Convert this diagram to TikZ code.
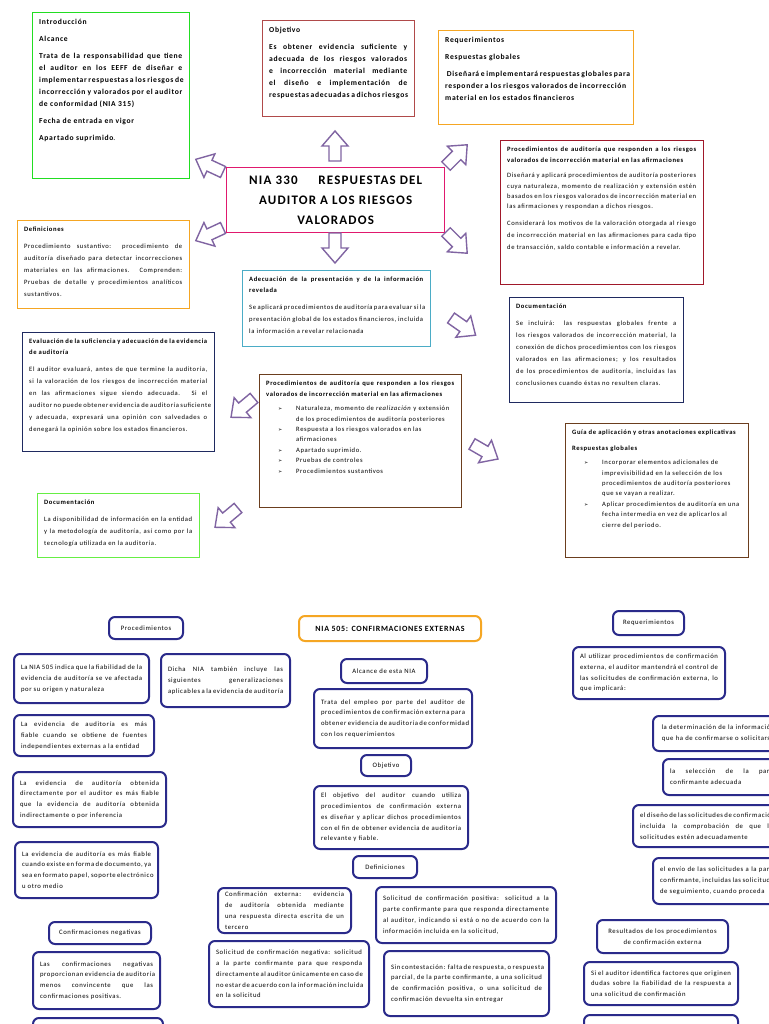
\documentclass[tikz,border=0pt]{standalone}
\usepackage{fontspec}
\setmainfont[LetterSpace=9]{Carlito}
\newfontfamily\dejavu{DejaVu Sans}
\usetikzlibrary{backgrounds}
\hyphenpenalty=10000 \exhyphenpenalty=10000 \emergencystretch=20pt
\definecolor{cgreen}{HTML}{22DD22}
\definecolor{cobj}{HTML}{B04A4A}
\definecolor{corange}{HTML}{F5A623}
\definecolor{cmag}{HTML}{E0196E}
\definecolor{cdred}{HTML}{A0182A}
\definecolor{ccyan}{HTML}{4BACC6}
\definecolor{cnavy}{HTML}{1F2A60}
\definecolor{cbrown}{HTML}{6B3E1E}
\definecolor{clgreen}{HTML}{66EE44}
\definecolor{cpurple}{HTML}{8064A2}
\definecolor{cbnavy}{HTML}{2A2A8A}
\definecolor{clink}{HTML}{C8CC20}
\newcommand\bx[7]{%
  \node[#6,anchor=north west,minimum width=#4pt,minimum height=#5pt] (#1) at (#2,#3) {};
  \pgfmathsetmacro\tw{#4-14}%
  \node[anchor=north west,text width=\tw pt,align=justify,inner sep=0pt] (#1t) at ([xshift=7pt,yshift=-7pt]#1.north west) {#7};}
\newcommand\rb[7]{%
  \pgfmathsetmacro\tw{#4-14}%
  \node[#6,anchor=north west,minimum width=#4pt,minimum height=#5pt,text width=\tw pt,inner xsep=7pt,inner ysep=3pt] (#1) at (#2,#3) {#7};}
\newenvironment{blist}{\begin{list}{\dejavu\fontsize{5}{5}\selectfont ➢}{\leftmargin=30pt\labelsep=14pt\itemsep=0pt\parsep=0pt\topsep=4pt\partopsep=0pt}}{\end{list}}
\newcommand\bigf{\fontsize{7.6}{12}\selectfont}
\newcommand\smf{\fontsize{6.6}{10.4}\selectfont}
\tikzset{
  topbox/.style={draw,line width=1.3pt,fill=white},
  bbox/.style={draw=cbnavy,line width=2pt,rounded corners=6pt,fill=white,align=justify,font=\fontsize{6.7}{10.8}\selectfont},
  cbox/.style={bbox,align=center},
  link/.style={draw=clink,line width=4pt},
  barrow/.pic={\draw[cpurple,line width=1.4pt,line join=miter] (0,-6)--(15,-6)--(15,-13)--(30,0)--(15,13)--(15,6)--(0,6)--cycle;}
}
\begin{document}
\begin{tikzpicture}[x=1pt,y=-1pt]
\useasboundingbox[fill=white] (0,0) rectangle (768,1024);
% ---------- top part ----------
\bx{intro}{32}{12}{157}{166}{topbox,draw=cgreen}{\bigf\textbf{Introducción}\par\vspace{5pt}\textbf{Alcance}\par\vspace{5pt}\textbf{Trata de la responsabilidad que tiene el auditor en los EEFF de diseñar e implementar respuestas a los riesgos de incorrección y valorados por el auditor de conformidad (NIA 315)}\par\vspace{5pt}\textbf{Fecha de entrada en vigor}\par\vspace{5pt}\textbf{Apartado suprimido}.}
\bx{obj}{262}{20}{152}{96}{topbox,draw=cobj}{\bigf\textbf{Objetivo}\par\vspace{5pt}\textbf{Es obtener evidencia suficiente y adecuada de los riesgos valorados e incorrección material mediante el diseño e implementación de respuestas adecuadas a dichos riesgos}}
\bx{req}{438}{30}{195}{94}{topbox,draw=corange}{\bigf\textbf{Requerimientos}\par\vspace{5pt}\textbf{Respuestas globales}\par\vspace{5pt}\textbf{\ Diseñará e implementará respuestas globales para responder a los riesgos valorados de incorrección material en los estados financieros}}
\node[topbox,draw=cmag,anchor=north west,minimum width=218pt,minimum height=65pt,align=center,font=\fontsize{13}{20}\selectfont\bfseries] (title) at (226,167) {NIA 330\hspace{1.6em}RESPUESTAS DEL\\AUDITOR A LOS RIESGOS\\VALORADOS};
\bx{procr}{500}{140}{203}{144}{topbox,draw=cdred}{\smf\textbf{Procedimientos de auditoría que responden a los riesgos valorados de incorrección material en las afirmaciones}\par\vspace{5pt}Diseñará y aplicará procedimientos de auditoría posteriores cuya naturaleza, momento de realización y extensión estén basados en los riesgos valorados de incorrección material en las afirmaciones y respondan a dichos riesgos.\par\vspace{5pt}Considerará los motivos de la valoración otorgada al riesgo de incorrección material en las afirmaciones para cada tipo de transacción, saldo contable e información a revelar.}
\bx{defi}{17}{220}{172}{88}{topbox,draw=corange}{\smf\textbf{Definiciones}\par\vspace{5pt}Procedimiento sustantivo: procedimiento de auditoría diseñado para detectar incorrecciones materiales en las afirmaciones. Comprenden: Pruebas de detalle y procedimientos analíticos sustantivos.}
\bx{adec}{242}{270}{188}{76}{topbox,draw=ccyan}{\smf\textbf{Adecuación de la presentación y de la información revelada}\par\vspace{5pt}Se aplicará procedimientos de auditoría para evaluar si la presentación global de los estados financieros, incluida la información a revelar relacionada}
\bx{docr}{509}{297}{174}{105}{topbox,draw=cnavy}{\smf\textbf{Documentación}\par\vspace{5pt}Se incluirá: las respuestas globales frente a los riesgos valorados de incorrección material, la conexión de dichos procedimientos con los riesgos valorados en las afirmaciones; y los resultados de los procedimientos de auditoría, incluidas las conclusiones cuando éstas no resulten claras.}
\bx{eval}{22}{332}{192}{119}{topbox,draw=cnavy}{\smf\textbf{Evaluación de la suficiencia y adecuación de la evidencia de auditoría}\par\vspace{5pt}El auditor evaluará, antes de que termine la auditoría, si la valoración de los riesgos de incorrección material en las afirmaciones sigue siendo adecuada. Si el auditor no puede obtener evidencia de auditoría suficiente y adecuada, expresará una opinión con salvedades o denegará la opinión sobre los estados financieros.}
\bx{procc}{259}{374}{202}{133}{topbox,draw=cbrown}{\smf\textbf{Procedimientos de auditoría que responden a los riesgos valorados de incorrección material en las afirmaciones}\begin{blist}\raggedright
\item Naturaleza, momento de \emph{realización} y extensión de los procedimientos de auditoría posteriores
\item Respuesta a los riesgos valorados en las afirmaciones
\item Apartado suprimido.
\item Pruebas de controles
\item Procedimientos sustantivos\end{blist}}
\bx{guia}{565}{423}{183}{134}{topbox,draw=cbrown}{\smf\textbf{Guía de aplicación y otras anotaciones explicativas}\par\vspace{5pt}\textbf{Respuestas globales}\begin{blist}\raggedright
\item Incorporar elementos adicionales de imprevisibilidad en la selección de los procedimientos de auditoría posteriores que se vayan a realizar.
\item Aplicar procedimientos de auditoría en una fecha intermedia en vez de aplicarlos al cierre del periodo.\end{blist}}
\bx{docl}{37}{493}{162}{64}{topbox,draw=clgreen}{\smf\textbf{Documentación}\par\vspace{5pt}La disponibilidad de información en la entidad y la metodología de auditoría, así como por la tecnología utilizada en la auditoría.}
% block arrows
\pic[rotate=90] at (335,161) {barrow};
\pic[rotate=-90] at (335,233) {barrow};
\pic[rotate=155] at (223,172) {barrow};
\pic[rotate=205] at (223,228) {barrow};
\pic[rotate=45] at (446,166) {barrow};
\pic[rotate=-45] at (446,232) {barrow};
\pic[rotate=-35] at (451,318) {barrow};
\pic[rotate=220] at (254,398) {barrow};
\pic[rotate=220] at (238,508) {barrow};
\pic[rotate=-30] at (472,444) {barrow};
% ---------- bottom part ----------
\node[bbox,draw=corange,anchor=north west,minimum width=182pt,minimum height=25pt,align=center,font=\fontsize{8}{9}\selectfont\bfseries] (t505) at (298,615) {NIA 505: CONFIRMACIONES EXTERNAS};
\rb{proc}{108}{616}{74}{22}{cbox}{Procedimientos}
\rb{reqb}{612}{610}{71}{24}{cbox}{Requerimientos}
\rb{l1}{13}{653}{135}{49}{bbox}{La NIA 505 indica que la fiabilidad de la evidencia de auditoría se ve afectada por su origen y naturaleza}
\rb{dicha}{160}{653}{129}{53}{bbox}{Dicha NIA también incluye las siguientes generalizaciones aplicables a la evidencia de auditoría}
\rb{l2}{13}{714}{140}{41}{bbox}{La evidencia de auditoría es más fiable cuando se obtiene de fuentes independientes externas a la entidad}
\rb{l3}{12}{771}{153}{55}{bbox}{La evidencia de auditoría obtenida directamente por el auditor es más fiable que la evidencia de auditoría obtenida indirectamente o por inferencia}
\rb{l4}{14}{841}{143}{56}{bbox}{La evidencia de auditoría es más fiable cuando existe en forma de documento, ya sea en formato papel, soporte electrónico u otro medio}
\rb{cneg}{48}{921}{102}{22}{cbox}{Confirmaciones negativas}
\rb{l5}{32}{951}{127}{57}{bbox}{Las confirmaciones negativas proporcionan evidencia de auditoría menos convincente que las confirmaciones positivas.}
\node[bbox,anchor=north west,minimum width=130pt,minimum height=20pt] (l6) at (32,1017) {};
\rb{alc}{340}{658}{86}{24}{cbox}{Alcance de esta NIA}
\rb{trata}{313}{688}{158}{59}{bbox}{Trata del empleo por parte del auditor de procedimientos de confirmación externa para obtener evidencia de auditoría de conformidad con los requerimientos}
\rb{objb}{360}{754}{50}{21}{cbox}{Objetivo}
\rb{elobj}{313}{785}{154}{63}{bbox}{El objetivo del auditor cuando utiliza procedimientos de confirmación externa es diseñar y aplicar dichos procedimientos con el fin de obtener evidencia de auditoría relevante y fiable.}
\rb{defb}{352}{855}{64}{22}{cbox}{Definiciones}
\rb{cext}{217}{887}{133}{45}{bbox}{Confirmación externa: evidencia de auditoría obtenida mediante una respuesta directa escrita de un tercero}
\rb{spos}{375}{886}{180}{56}{bbox}{Solicitud de confirmación positiva: solicitud a la parte confirmante para que responda directamente al auditor, indicando si está o no de acuerdo con la información incluida en la solicitud,}
\rb{sneg}{208}{940}{160}{66}{bbox}{Solicitud de confirmación negativa: solicitud a la parte confirmante para que responda directamente al auditor únicamente en caso de no estar de acuerdo con la información incluida en la solicitud}
\rb{sinc}{383}{950}{165}{65}{bbox}{Sin contestación: falta de respuesta, o respuesta parcial, de la parte confirmante, a una solicitud de confirmación positiva, o una solicitud de confirmación devuelta sin entregar}
\rb{alu}{572}{646}{152}{52}{bbox}{Al utilizar procedimientos de confirmación externa, el auditor mantendrá el control de las solicitudes de confirmación externa, lo que implicará:}
\rb{det}{652}{715}{130}{35}{cbox}{la determinación de la información que ha de confirmarse o solicitarse}
\rb{sel}{662}{758}{120}{36}{bbox}{la selección de la parte confirmante adecuada}
\rb{dis}{632}{804}{150}{42}{bbox}{el diseño de las solicitudes de confirmación, incluida la comprobación de que las solicitudes estén adecuadamente}
\rb{env}{652}{857}{130}{46}{bbox}{el envío de las solicitudes a la parte confirmante, incluidas las solicitudes de seguimiento, cuando proceda}
\rb{res}{596}{919}{131}{33}{cbox}{Resultados de los procedimientos de confirmación externa}
\rb{siel}{583}{961}{154}{43}{bbox}{Si el auditor identifica factores que originen dudas sobre la fiabilidad de la respuesta a una solicitud de confirmación}
\node[bbox,anchor=north west,minimum width=154pt,minimum height=20pt] (last) at (583,1014) {};
\begin{scope}[on background layer]
\draw[link] (proc.east) -- (t505.west);
\draw[link] (t505.east) -- (reqb.west);
\draw[link] ([xshift=-8pt]proc.south) -- ([xshift=-8pt]proc.south |- l1.north);
\draw[link] ([xshift=29pt]proc.south) -- ([xshift=29pt]proc.south |- dicha.north);
\draw[link] (l1.south -| 120,0) -- (l6.north -| 120,0);
\draw[link] (t505.south -| 388,0) -- (sinc.north -| 388,0) ;
\draw[link] (defb.south) -- (cext.north);
\draw[link] (cext.south) -- (sneg.north);
\draw[link] (defb.south) -- (sinc.north);
\draw[link] (reqb.south -| 648,0) -- (alu.north -| 648,0);
\draw[link] (alu.south -| 694,0) -- (last.north -| 694,0);
\end{scope}
\end{tikzpicture}
\end{document}
